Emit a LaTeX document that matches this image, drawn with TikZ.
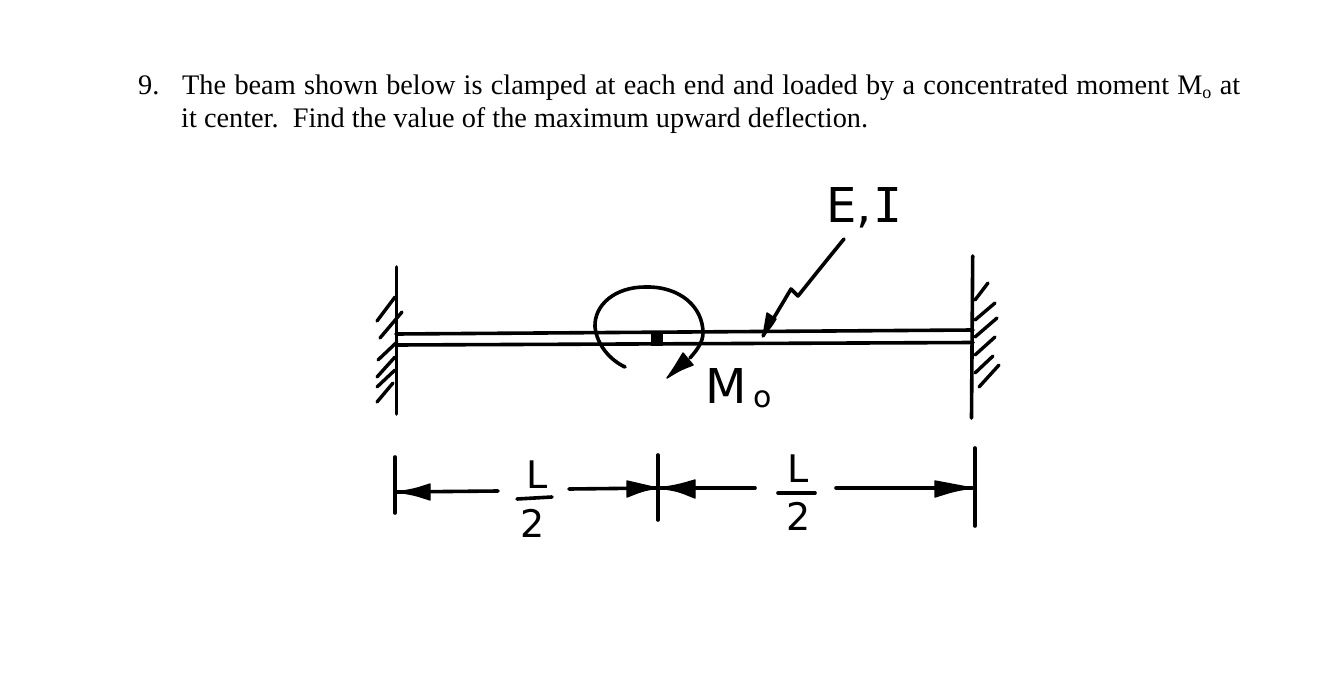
\documentclass[tikz,border=0pt]{standalone}
\usepackage{fontspec}
\setmainfont{Liberation Serif}
\newfontfamily\handfont{DejaVu Sans Mono}
\newfontfamily\handsans{DejaVu Sans}
\begin{document}
\begin{tikzpicture}[x=1pt,y=-1pt,
  ink/.style={line width=3.6pt,line cap=round,line join=round,black},
  thinink/.style={line width=3.4pt,line cap=round,line join=round,black},
  head/.style={fill=black,draw=black,line width=1.4pt,line join=round},
  prose/.style={anchor=base west,inner sep=0pt,font=\fontsize{28.3}{33}\selectfont},
  hand/.style={inner sep=0pt,font=\handsans\fontsize{48}{48}\selectfont},
  handsmall/.style={inner sep=0pt,font=\handsans\fontsize{38}{38}\selectfont}]
\useasboundingbox[fill=white] (0,0) rectangle (1336,674);
% question text
\node[prose] (num) at (138,95) {9.};
\node[prose] (lineone) at (182,95) {\hbox to 1058pt{The beam shown below is clamped at each end and loaded by a concentrated moment M\raisebox{-4pt}{\fontsize{18}{18}\selectfont o} at}};
\node[prose] (linetwo) at (181,128) {it center.\ \ Find the value of the maximum upward deflection.};
% beam
\draw[ink] (396,334) -- (973,330);
\draw[ink] (396,345) -- (973,342.5);
\fill (651,331) rectangle (663,346);
% walls
\draw[ink] (396.5,267) -- (396.5,414);
\draw[ink] (972.7,256) -- (971.5,418);
\foreach \ax/\ay/\bx/\by in {377/321/395/297,380/338/402/312,378/360/397/342,377/377/395/357,377/387/395/370,377/402/393/383}
  \draw[thinink] (\ax,\ay) -- (\bx,\by);
\foreach \ax/\ay/\bx/\by in {975/300/988/283,975/320/995/303,975/337/997/318,975/355/995/337,975/373/993/356,979/387/999/365}
  \draw[thinink] (\ax,\ay) -- (\bx,\by);
% moment
\draw[ink] (625,367) .. controls (610,360) and (597,345) .. (595,327)
  .. controls (594,305) and (615,287) .. (645,287)
  .. controls (680,286) and (703,307) .. (703,333)
  .. controls (703,342) and (697,350) .. (690,358);
\draw[head] (667,378) .. controls (674,368) .. (683,353) -- (693,365) .. controls (680,370) .. cycle;
% leader
\draw[ink] (844,239) .. controls (822,266) .. (798,296) -- (791,289) -- (763,336);
\draw[head] (763,336) .. controls (765,325) .. (767,313) -- (776,319) .. controls (771,327) .. cycle;
% labels
\node[hand,anchor=base west] (ei) at (826,222) {E,\kern2pt{\handfont I}};
\node[hand,anchor=base west] (mm) at (705,403) {M};
\node[inner sep=0pt,font=\handsans\fontsize{30}{30}\selectfont,anchor=base west] (mo) at (753,407) {o};
\node[handsmall,anchor=base] (la) at (537,488) {L};
\node[handsmall,anchor=base] (lb) at (533,537) {2};
\node[handsmall,anchor=base] (lc) at (798,482) {L};
\node[handsmall,anchor=base] (ld) at (799,530) {2};
\draw[ink] (517,499) -- (552,497);
\draw[ink] (778,493) -- (815,493);
% dimension ticks
\draw[ink] (395,457) -- (395,513);
\draw[ink] (658,455) -- (658,520);
\draw[ink] (975,448) -- (975,526);
% dimension lines
\draw[ink] (397,492) -- (498,491);
\draw[ink] (569,489) -- (657,488);
\draw[ink] (658,488) -- (755,488);
\draw[ink] (836,488) -- (972,488);
\draw[head] (397,492) .. controls (415,489) .. (430,484) -- (430,500) .. controls (415,495) .. cycle;
\draw[head] (657,488) .. controls (642,485) .. (627,481) -- (627,497) .. controls (642,491) .. cycle;
\draw[head] (659,488) .. controls (678,485) .. (695,480) -- (695,498) .. controls (678,491) .. cycle;
\draw[head] (972,488) .. controls (954,485) .. (935,481) -- (935,497) .. controls (954,491) .. cycle;
\end{tikzpicture}
\end{document}
